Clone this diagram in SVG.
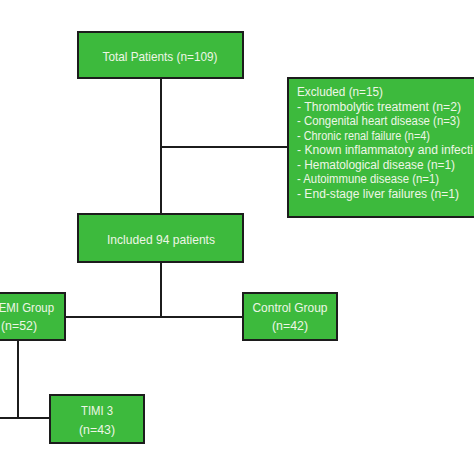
<svg xmlns="http://www.w3.org/2000/svg" width="474" height="474" viewBox="0 0 474 474">
<style>
.box{fill:#3dba3d;stroke:#1c1c1c;stroke-width:2}
.t{font-family:"Liberation Sans",Arial,sans-serif;fill:#eef6e6;font-size:13px}
.c{text-anchor:middle}
.s{font-size:12px}
.ln{stroke:#1c1c1c;stroke-width:2;fill:none}
</style>
<rect width="474" height="474" fill="#ffffff"/>
<g id="connectors">
<path class="ln" d="M161 78V214M161 147H288M161 262V317M65 317H243M18 340V418M0 418H50"/>
</g>
<g id="total">
<rect class="box" x="78" y="32" width="165" height="46"/>
<text class="t c" x="160" y="61" textLength="115" lengthAdjust="spacingAndGlyphs" font-size="14">Total Patients (n=109)</text>
</g>
<g id="excluded">
<rect class="box" x="288" y="78" width="200" height="139"/>
<text class="t s" x="297" y="96" textLength="86" lengthAdjust="spacingAndGlyphs">Excluded (n=15)</text>
<text class="t s" x="297" y="110.5" textLength="164" lengthAdjust="spacingAndGlyphs">- Thrombolytic treatment (n=2)</text>
<text class="t s" x="297" y="125" textLength="163" lengthAdjust="spacingAndGlyphs">- Congenital heart disease (n=3)</text>
<text class="t s" x="297" y="139.5" textLength="133" lengthAdjust="spacingAndGlyphs">- Chronic renal failure (n=4)</text>
<text class="t s" x="297" y="154" textLength="176" lengthAdjust="spacingAndGlyphs">- Known inflammatory and infecti</text>
<text class="t s" x="297" y="168.5" textLength="158" lengthAdjust="spacingAndGlyphs">- Hematological disease (n=1)</text>
<text class="t s" x="297" y="183" textLength="142" lengthAdjust="spacingAndGlyphs">- Autoimmune disease (n=1)</text>
<text class="t s" x="297" y="197.5" textLength="162" lengthAdjust="spacingAndGlyphs">- End-stage liver failures (n=1)</text>
</g>
<g id="included">
<rect class="box" x="78" y="214" width="165" height="48"/>
<text class="t c" x="161" y="244" textLength="108" lengthAdjust="spacingAndGlyphs">Included 94 patients</text>
</g>
<g id="stemi">
<rect class="box" x="-29" y="293" width="94" height="47"/>
<text class="t c" x="19" y="312" textLength="70" lengthAdjust="spacingAndGlyphs">STEMI Group</text>
<text class="t c" x="19" y="330" textLength="36" lengthAdjust="spacingAndGlyphs">(n=52)</text>
</g>
<g id="control">
<rect class="box" x="243" y="293" width="94" height="47"/>
<text class="t c" x="290" y="312" textLength="75" lengthAdjust="spacingAndGlyphs">Control Group</text>
<text class="t c" x="290" y="330" textLength="36" lengthAdjust="spacingAndGlyphs">(n=42)</text>
</g>
<g id="timi3">
<rect class="box" x="50" y="395" width="94" height="48"/>
<text class="t c" x="97" y="415" textLength="32" lengthAdjust="spacingAndGlyphs">TIMI 3</text>
<text class="t c" x="97" y="434" textLength="36" lengthAdjust="spacingAndGlyphs">(n=43)</text>
</g>
</svg>
